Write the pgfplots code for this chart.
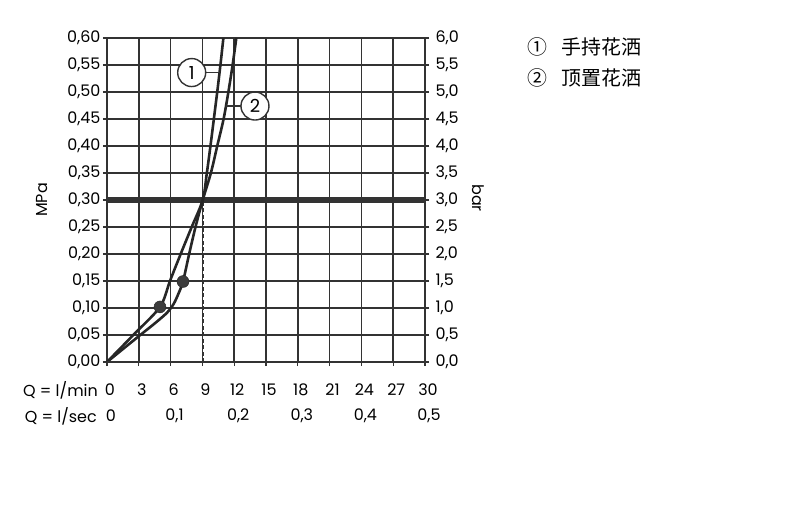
\documentclass[border=0pt]{standalone}
\usepackage{pgfplots}
\pgfplotsset{compat=1.18}
\usepackage{fontspec}
\setmainfont{Poppins}
\newfontfamily\cjk{Noto Sans CJK SC}
\definecolor{ink}{HTML}{333333}
\definecolor{dark}{HTML}{262626}

\pgfplotsset{
  base/.style={
    at={(0,0)}, anchor=south west,
    scale only axis, width=318bp, height=324bp,
    xmin=0, xmax=30,
    axis line style={ink, line width=1.6bp},
    tick style={ink, line width=1.3bp},
    tick align=outside, major tick length=4bp,
    ticklabel style={font=\fontsize{16}{18}\selectfont},
    label style={font=\fontsize{16}{18}\selectfont},
    /pgf/number format/assume math mode=true,
    /pgf/number format/use comma,
    /pgf/number format/fixed,
    /pgf/number format/fixed zerofill,
  },
}

\begin{document}
\begin{tikzpicture}
\path[use as bounding box] (-107bp,-148bp) rectangle (693bp,362bp);

\begin{axis}[base,
  ymin=0, ymax=0.6,
  xtick={0,3,6,9,12,15,18,21,24,27,30},
  ytick={0,0.05,0.1,0.15,0.2,0.25,0.3,0.35,0.4,0.45,0.5,0.55,0.6},
  xtick pos=bottom, ytick pos=left,
  yticklabel style={/pgf/number format/precision=2, xshift=1bp},
  xticklabel style={/pgf/number format/precision=0, anchor=center, yshift=-24bp, xshift=3bp},
  grid=major, major grid style={ink, line width=1.6bp},
  ylabel={MPa},
  ylabel style={at={(axis description cs:-0.204,0.5)}, anchor=center},
]
% pressure line at 3 bar
\addplot[ink, line width=5.5bp] coordinates {(0,0.3) (30,0.3)};
\addplot[ink, line width=1.2bp, dash pattern=on 4bp off 2.5bp] coordinates {(9.1,0) (9.1,0.3)};

% 1: hand shower
\addplot[dark, line width=2.6bp, smooth] coordinates {
  (0,0) (2.48,0.05) (5.0,0.102) (5.94,0.15) (6.95,0.2) (7.99,0.25) (9.03,0.3)
  (9.42,0.35) (9.76,0.4) (10.08,0.45) (10.4,0.5) (10.7,0.55) (10.98,0.6)
};
% 2: overhead shower
\addplot[dark, line width=2.6bp, smooth] coordinates {
  (0,0) (2.95,0.047) (4.6,0.073) (5.7,0.092) (6.3,0.108) (6.75,0.127) (7.17,0.149) (7.75,0.2)
  (8.35,0.25) (9.03,0.3) (9.8,0.35) (10.4,0.4) (11.0,0.45) (11.45,0.5) (11.85,0.55) (12.2,0.6)
};

\addplot[only marks, mark=*, mark size=6bp, mark options={draw=dark, fill=dark!90}] coordinates {(5.0,0.102)};
\addplot[only marks, mark=*, mark size=6bp, mark options={draw=dark, fill=dark!90}] coordinates {(7.17,0.149)};

\draw[ink, line width=1.6bp] (axis cs:7.99,0.536) -- (axis cs:10.62,0.536);
\draw[ink, line width=1.6bp] (axis cs:13.96,0.474) -- (axis cs:11.2,0.474);
\node[circle, draw=ink, line width=1.4bp, fill=white, minimum size=28bp, inner sep=0pt,
  font=\fontsize{18}{20}\selectfont] at (axis cs:7.99,0.536) {1};
\node[circle, draw=ink, line width=1.4bp, fill=white, minimum size=28bp, inner sep=0pt,
  font=\fontsize{18}{20}\selectfont] at (axis cs:13.96,0.474) {2};
\end{axis}

\begin{axis}[base,
  clip=false,
  ymin=0, ymax=6,
  axis y line*=right, axis x line*=bottom,
  ytick={0,0.5,1,1.5,2,2.5,3,3.5,4,4.5,5,5.5,6},
  yticklabel style={/pgf/number format/precision=1, xshift=3bp},
  xtick={0,6,12,18,24,30},
  xticklabels={0,{0,1},{0,2},{0,3},{0,4},{0,5}},
  xtick style={draw=none},
  xticklabel style={anchor=center, yshift=-50bp, xshift=4bp},
  ylabel={bar},
  ylabel style={at={(axis description cs:1.1667,0.506)}, anchor=center, rotate=180},
]
\node[anchor=east, inner sep=0pt, font=\fontsize{16}{18}\selectfont]
  at (axis description cs:0,0) [xshift=-9bp, yshift=-28bp] {Q = l/min};
\node[anchor=east, inner sep=0pt, font=\fontsize{16}{18}\selectfont]
  at (axis description cs:0,0) [xshift=-10bp, yshift=-54bp] {Q = l/sec};

\node[font=\cjk\fontsize{20}{22}\selectfont] at (axis description cs:1.3538,0.973) {①};
\node[font=\cjk\fontsize{20}{22}\selectfont] at (axis description cs:1.3538,0.8756) {②};
\node[anchor=west, inner sep=0pt, font=\cjk\fontsize{20}{22}\selectfont] at (axis description cs:1.4299,0.973) {手持花洒};
\node[anchor=west, inner sep=0pt, font=\cjk\fontsize{20}{22}\selectfont] at (axis description cs:1.4299,0.8756) {顶置花洒};
\end{axis}
\end{tikzpicture}
\end{document}
